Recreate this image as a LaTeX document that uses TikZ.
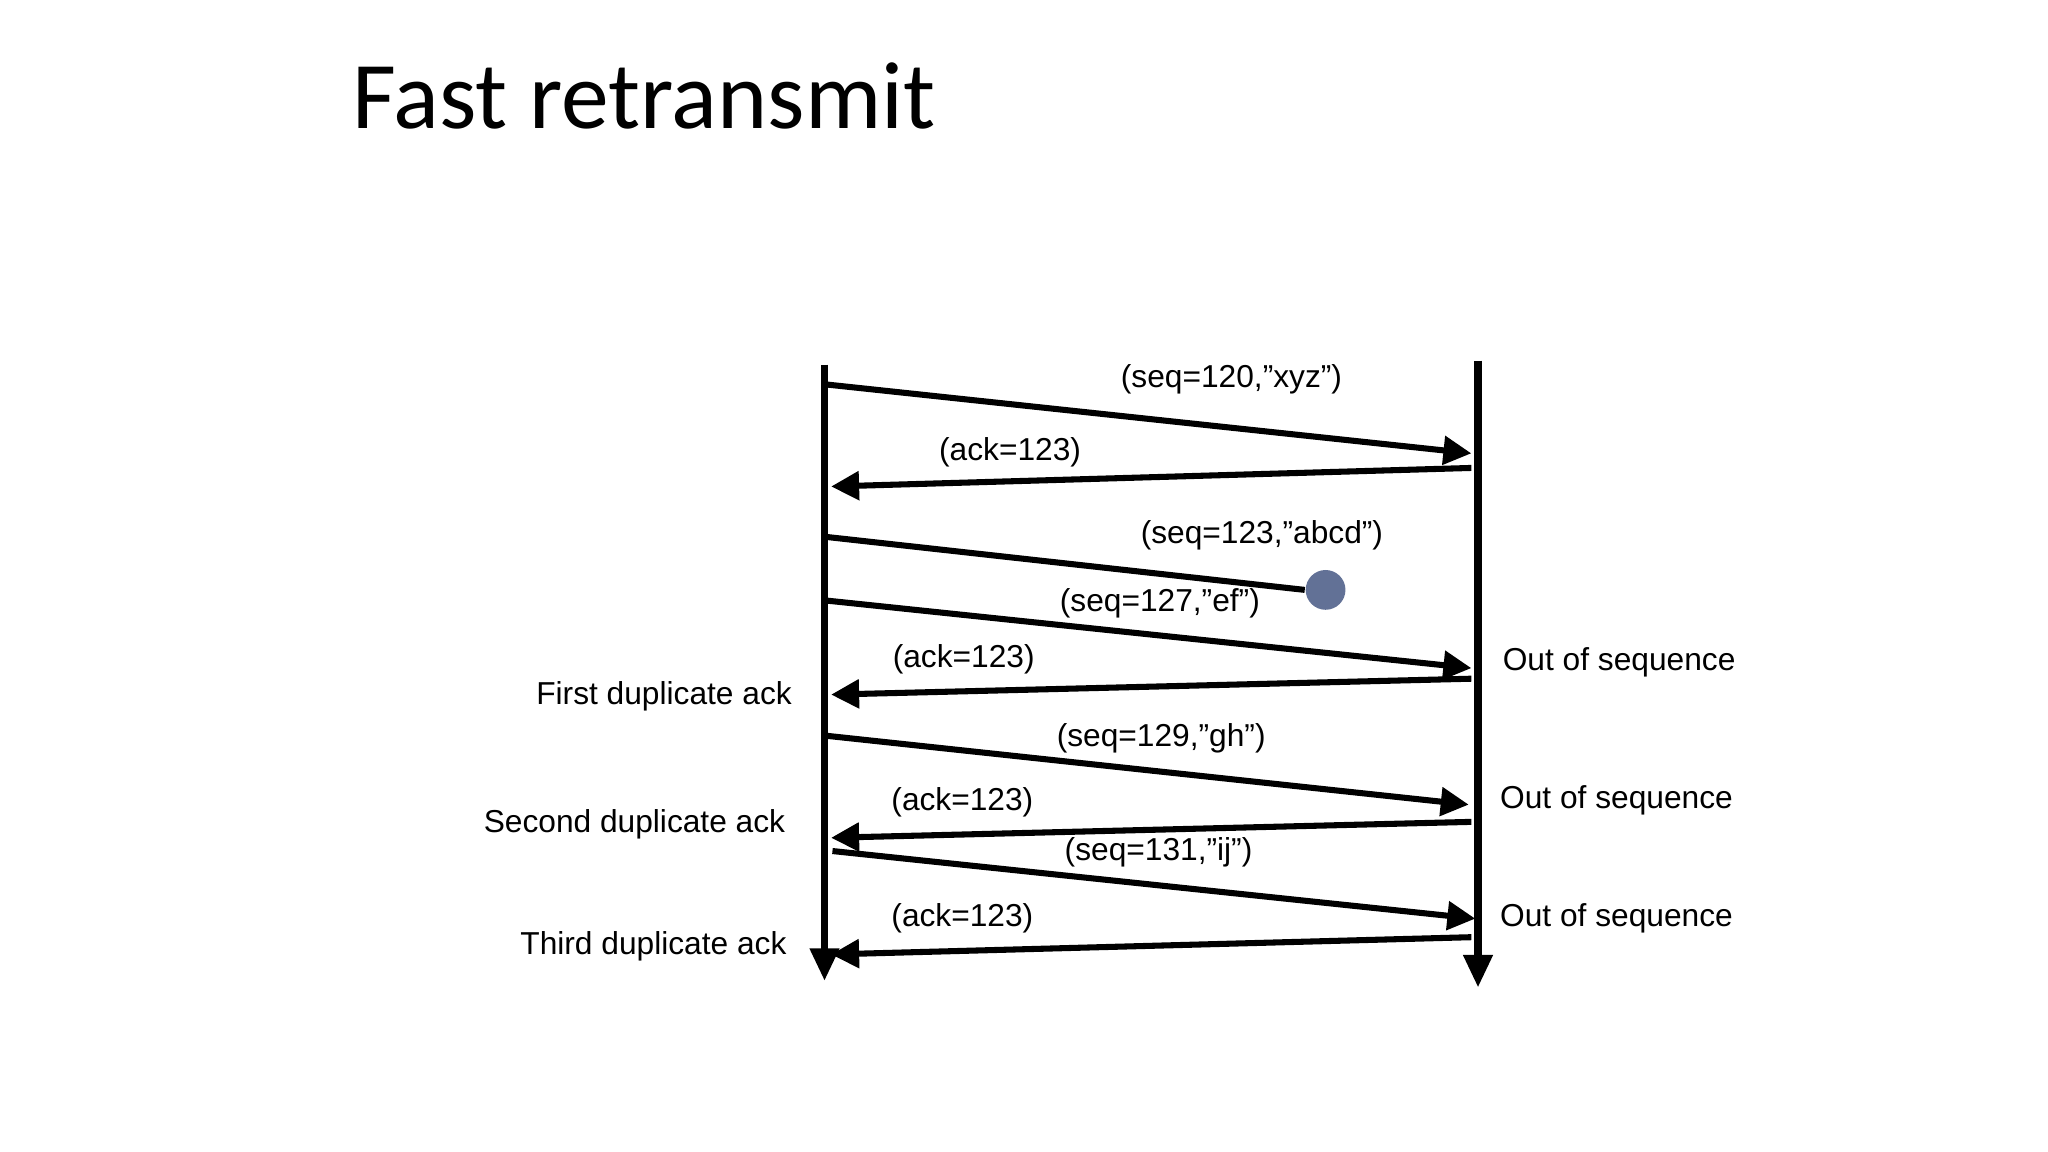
\documentclass[tikz,border=0pt]{standalone}
\usepackage{fontspec}
\setmainfont{Liberation Sans}
\newfontfamily\titlefont{Carlito}
\usetikzlibrary{arrows.meta}
\begin{document}
\begin{tikzpicture}[x=0.01cm,y=-0.01cm,
  msg/.style={line width=1.3pt,-{Triangle[length=6pt,width=6pt]}},
  life/.style={line width=1.6pt,-{Triangle[length=7pt,width=6pt]}},
  lbl/.style={font=\fontsize{6.8}{8}\selectfont,inner sep=0pt}]
\useasboundingbox (0,0) rectangle (1545,869);
\node[anchor=base west,inner sep=0pt,font=\titlefont\fontsize{20.5}{24}\selectfont] (title) at (265,97) {Fast retransmit};
% lifelines
\coordinate (lt) at (622,275); \coordinate (lb) at (622,740);
\coordinate (rt) at (1115,272); \coordinate (rb) at (1115,745);
\draw[life] (lt) -- (lb);
\draw[life] (rt) -- (rb);
% endpoints
\coordinate (a1) at (623,290); \coordinate (b1) at (1110,342);
\coordinate (a2) at (1110,353); \coordinate (b2) at (627,367);
\coordinate (a3) at (623,405);
\node[circle,fill={rgb,255:red,98;green,113;blue,150},minimum size=0.3cm,inner sep=0pt] (lost) at (1000,445) {};
\coordinate (a4) at (623,453); \coordinate (b4) at (1110,504);
\coordinate (a5) at (1110,512); \coordinate (b5) at (627,524);
\coordinate (a6) at (623,555); \coordinate (b6) at (1108,607);
\coordinate (a7) at (1110,620); \coordinate (b7) at (627,632);
\coordinate (a8) at (628,642); \coordinate (b8) at (1113,693);
\coordinate (a9) at (1110,707); \coordinate (b9) at (627,720);
\draw[msg] (a1) -- (b1);
\draw[msg] (a2) -- (b2);
\draw[line width=1.3pt] (a3) -- (lost.west);
\draw[msg] (a4) -- (b4);
\draw[msg] (a5) -- (b5);
\draw[msg] (a6) -- (b6);
\draw[msg] (a7) -- (b7);
\draw[msg] (a8) -- (b8);
\draw[msg] (a9) -- (b9);
% labels
\node[lbl] (l1) at (929,286) {(seq=120,"xyz")};
\node[lbl] (l2) at (762,341) {(ack=123)};
\node[lbl] (l3) at (952,404) {(seq=123,"abcd")};
\node[lbl] (l4) at (875,455) {(seq=127,"ef")};
\node[lbl] (l5) at (727,497) {(ack=123)};
\node[lbl] (l6) at (876,557) {(seq=129,"gh")};
\node[lbl] (l7) at (726,605) {(ack=123)};
\node[lbl] (l8) at (874,643) {(seq=131,"ij")};
\node[lbl] (l9) at (726,693) {(ack=123)};
\node[lbl,anchor=east] (d1) at (598,525) {First duplicate ack};
\node[lbl,anchor=east] (d2) at (593,622) {Second duplicate ack};
\node[lbl,anchor=east] (d3) at (594,714) {Third duplicate ack};
\node[lbl,anchor=west] (o1) at (1133,500) {Out of sequence};
\node[lbl,anchor=west] (o2) at (1131,604) {Out of sequence};
\node[lbl,anchor=west] (o3) at (1131,693) {Out of sequence};
\end{tikzpicture}
\end{document}
